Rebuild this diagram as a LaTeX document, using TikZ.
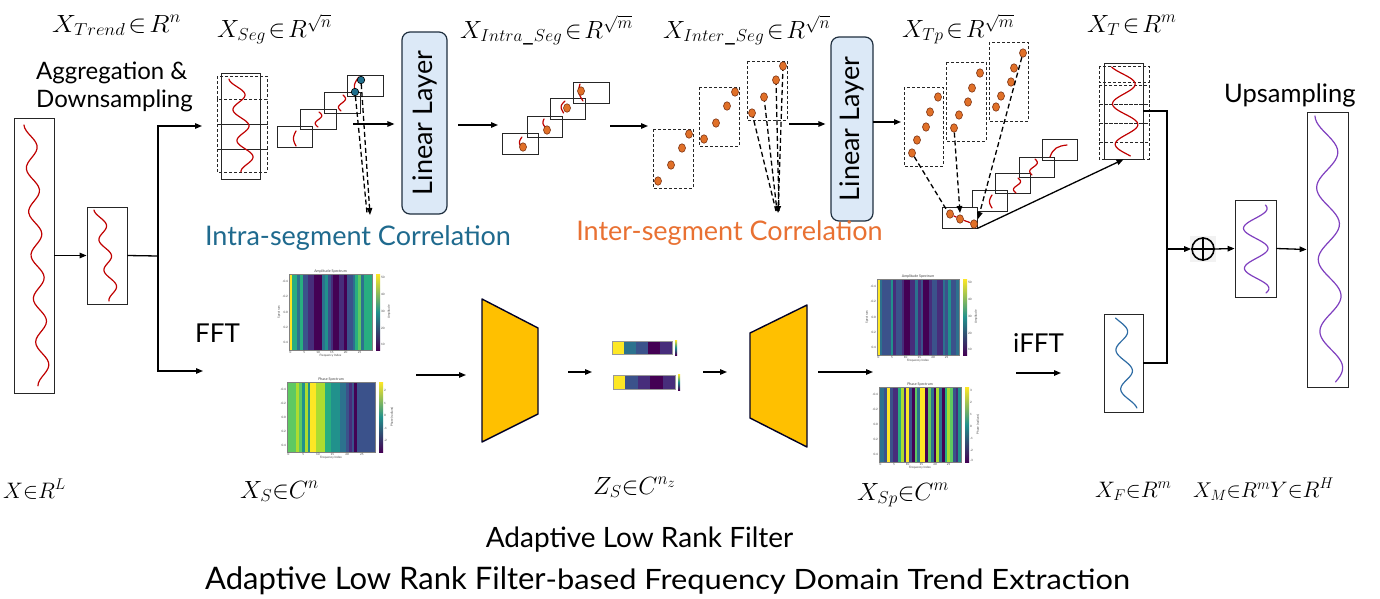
\documentclass[tikz,border=0pt]{standalone}
\usepackage{fontspec}
\setmainfont{Lato}
\usepackage{graphicx}
\usetikzlibrary{arrows.meta,shapes.geometric,calc}
\DeclareMathSizes{24.88}{24.88}{17.28}{14.4}
\definecolor{v0}{HTML}{440154}
\definecolor{v1}{HTML}{472D7B}
\definecolor{v2}{HTML}{3B528B}
\definecolor{v3}{HTML}{2C728E}
\definecolor{v4}{HTML}{21918C}
\definecolor{v5}{HTML}{28AE80}
\definecolor{v6}{HTML}{5EC962}
\definecolor{v7}{HTML}{ADDC30}
\definecolor{v8}{HTML}{FDE725}
\definecolor{wred}{HTML}{C00000}
\definecolor{wpurple}{HTML}{7F3FBF}
\definecolor{wblue}{HTML}{2E6CA4}
\definecolor{intrac}{HTML}{1F6A8E}
\definecolor{interc}{HTML}{E97132}
\definecolor{llfill}{HTML}{DCE9F7}
\definecolor{lldraw}{HTML}{1F2F3F}
\definecolor{trapf}{HTML}{FFC000}
\definecolor{dotf}{HTML}{E07028}
\definecolor{dotd}{HTML}{7A3010}
\definecolor{bdotf}{HTML}{1F6E8C}
\newcommand{\inn}{\mathord{\in}}

\newcommand{\wavy}[8]{\draw[#7, line width=1.2pt, line cap=round] plot[domain=0:1, samples=90, smooth, variable=\t] ({#1+(#3-#1)*\t + #5*sin(#6*360*\t+#8)}, {#2+(#4-#2)*\t});}

\newcommand{\specplot}[9]{%
  \pgfmathsetmacro{\spcw}{(#3-#1)/30}%
  \foreach \v [count=\i from 0] in {#5}{%
    \fill[v\v] ({#1+\i*\spcw},#2) rectangle ({#1+(\i+1)*\spcw},#4);}%
  \draw[black!50, line width=0.2pt] (#1,#2) rectangle (#3,#4);%
  \node[tinyt, anchor=south, font=\fontsize{3.6}{4}\selectfont] at ({(#1+#3)/2},#2-0.5) {#6};%
  \foreach \k in {0,5,10,15,20,25}{%
    \node[tinyt, anchor=north] at ({#1+(\k+0.5)*\spcw},#4+0.6) {\k};}%
  \node[tinyt, anchor=north] at ({(#1+#3)/2},#4+4.2) {Frequency Index};%
  \foreach \lab [count=\j from 0] in {-0.4,-0.2,0.0,0.2,0.4}{%
    \node[tinyt, anchor=east] at (#1-0.6,{#2+(#4-#2)*(0.1+0.2*\j)}) {\lab};}%
  \node[tinyt, rotate=90] at (#1-10,{(#2+#4)/2}) {#7};%
  \shade[top color=v8, bottom color=v0, middle color=v4] (#3+4,#2) rectangle (#3+8,#4);%
  \foreach \f/\l in {#8}{%
    \node[tinyt, anchor=west] at (#3+8.6,{#2+(#4-#2)*\f}) {\l};}%
  \node[tinyt, rotate=90] at (#3+17,{(#2+#4)/2}) {#9};%
}

\newcommand{\zstrip}[5]{%
  \pgfmathsetmacro{\zcw}{(#3-#1)/5}%
  \foreach \v [count=\i from 0] in {#5}{%
    \fill[v\v] ({#1+\i*\zcw},#2) rectangle ({#1+(\i+1)*\zcw},#4);}%
  \draw[black!40, line width=0.2pt] (#1,#2) rectangle (#3,#4);%
  \shade[top color=v8, bottom color=v0, middle color=v4] (#3+3,#2-1) rectangle (#3+5,#4+1);%
}

\begin{document}
\begin{tikzpicture}[x=1pt,y=-1pt,
  box/.style={draw=black!85, line width=0.8pt, inner sep=0},
  dbox/.style={draw=black!85, line width=0.8pt, dash pattern=on 3pt off 2pt},
  arr/.style={line width=1.3pt, -{Triangle[length=7pt,width=5.5pt]}},
  ln/.style={line width=1.3pt},
  dl/.style={line width=1.3pt, dash pattern=on 5pt off 3pt},
  dla/.style={line width=1.3pt, dash pattern=on 5pt off 3pt, -{Triangle[length=7pt,width=5.5pt]}},
  llayer/.style={draw=lldraw, fill=llfill, line width=1.2pt, rounded corners=8pt, inner sep=0, rotate=90, font=\fontsize{27}{30}\selectfont},
  odt/.style={ellipse, draw=dotd, fill=dotf, line width=0.6pt, minimum width=7pt, minimum height=8.5pt, inner sep=0},
  bdt/.style={circle, draw=black, fill=bdotf, line width=0.6pt, minimum size=7.5pt, inner sep=0},
  mlab/.style={font=\Huge, inner sep=0},
  stxt/.style={anchor=base west, inner sep=0, font=\fontsize{24}{28}\selectfont},
  tinyt/.style={font=\fontsize{3}{3.5}\selectfont, inner sep=0.3pt, text=black!75},
  trap/.style={fill=trapf, draw=black!85!blue, line width=1.4pt, line join=round}
]
\useasboundingbox[fill=white] (0,0) rectangle (1380,598);

% ---------------- top labels ----------------
\node[mlab, anchor=base west] (lTrend) at (52,32) {\scalebox{1.08}[1]{$X_{Trend}\!\in\! R^{n}$}};
\node[mlab, anchor=base west] (lSeg) at (217,37) {$X_{Seg}\!\in\! R^{\sqrt{n}}$};
\node[mlab, anchor=base west] (lIntra) at (460,38) {$X_{Intra\_Seg}\!\in\! R^{\sqrt{m}}$};
\node[mlab, anchor=base west] (lInter) at (663,38) {$X_{Inter\_Seg}\!\in\! R^{\sqrt{n}}$};
\node[mlab, anchor=base west] (lTp) at (902,37) {$X_{Tp}\!\in\! R^{\sqrt{m}}$};
\node[mlab, anchor=base west] (lT) at (1087,32) {$X_{T}\!\in\! R^{m}$};

\node[stxt] (agg1) at (36,79) {Aggregation \&};
\node[stxt] (agg2) at (36,107) {Downsampling};

% ---------------- input series ----------------
\node[box, minimum width=40pt, minimum height=275pt] (xL) at (34,255.5) {};
\wavy{30}{125}{44}{386}{6}{6}{wred}{-90}
\node[box, minimum width=40pt, minimum height=97pt] (xD) at (107,255.5) {};
\wavy{99}{210}{114}{301}{5}{3}{wred}{-90}
\draw[arr] (xL.east) -- (xD.west);
\coordinate (br) at (158,256);
\coordinate (segin) at (202,126);
\coordinate (fftin) at (203,371);
\draw[ln] (xD.east) -- (br);
\draw[arr] (br) |- (segin);
\draw[arr] (br) |- (fftin);

% ---------------- segmentation ----------------
\foreach \a/\b in {76/99,99/124,124/149,149/172}{\draw[dbox] (217,\a) rectangle (267,\b);}
\node[box, minimum width=39pt, minimum height=106pt] (seg) at (240.5,126) {};
\wavy{236}{79}{248}{172}{7}{3}{wred}{-90}

\node[box, minimum width=35pt, minimum height=21pt] (s1) at (294.5,136.5) {};
\node[box, minimum width=36pt, minimum height=20pt] (s2) at (318,119) {};
\node[box, minimum width=36pt, minimum height=21pt] (s3) at (342,102.5) {};
\node[box, minimum width=36pt, minimum height=21pt] (s4) at (365,85.5) {};
\wavy{296}{131}{296}{146}{-2.5}{0.5}{wred}{0}
\wavy{319}{112}{318}{127}{3}{1}{wred}{0}
\wavy{343}{95}{341}{111}{3}{1}{wred}{0}
\wavy{359}{77}{356}{93}{-3}{0.5}{wred}{0}
\node[bdt] (bd1) at (361,80) {};
\node[bdt] (bd2) at (355,92) {};
\coordinate (ic) at (370,215);
\draw[dl] (bd2) -- (367,213);
\draw[dla] (bd1) -- (ic);
\coordinate (s4out) at (353,124);
\node[llayer, minimum width=182pt, minimum height=45pt] (ll1) at (424.5,123) {Linear Layer};
\draw[arr, shorten >=7pt] (s4out) -- (s4out -| ll1.north);
\node[anchor=base, inner sep=0, text=intrac, font=\fontsize{27}{30}\selectfont] (intra) at (358,245) {Intra-segment Correlation};

% ---------------- intra segments ----------------
\coordinate (p1) at (458,125);
\coordinate (p2) at (498,125);
\draw[arr] (p1) -- (p2);
\node[box, minimum width=36pt, minimum height=21pt] (i1) at (520,143.5) {};
\node[box, minimum width=35pt, minimum height=21pt] (i2) at (544.5,126.5) {};
\node[box, minimum width=35pt, minimum height=21pt] (i3) at (567.5,108.5) {};
\node[box, minimum width=36pt, minimum height=21pt] (i4) at (591,92.5) {};
\wavy{522}{137}{521}{147}{-2}{0.5}{wred}{0}
\wavy{544}{119}{548}{131}{2.5}{0.6}{wred}{180}
\wavy{565}{101}{562}{113}{-2.5}{0.6}{wred}{0}
\wavy{580}{84}{583}{101}{-2.5}{0.5}{wred}{0}
\node[odt] (id1) at (523,147) {};
\node[odt] (id2) at (547,130) {};
\node[odt] (id3) at (567,108) {};
\node[odt] (id4) at (581,91) {};

% ---------------- inter segments ----------------
\coordinate (p3) at (610,126);
\coordinate (p4) at (648,126);
\draw[arr] (p3) -- (p4);
\draw[dbox] (653,129) rectangle (693,188);
\draw[dbox] (699,87) rectangle (739,146);
\draw[dbox] (747,61) rectangle (787,120);
\node[odt] (ea1) at (658,181) {};
\node[odt] (ea2) at (671,165) {};
\node[odt] (ea3) at (682,148) {};
\node[odt] (ea4) at (689,134) {};
\node[odt] (eb1) at (704,139) {};
\node[odt] (eb2) at (716,123) {};
\node[odt] (eb3) at (727,106) {};
\node[odt] (eb4) at (735,92) {};
\coordinate (ec) at (778,213);
\draw[dl] (752,113) -- (776,211);
\draw[dl] (764,97) -- (777,211);
\draw[dl] (776,80) -- (779,211);
\draw[dla] (783,66) -- (ec);
\node[odt] (ec1) at (752,113) {};
\node[odt] (ec2) at (764,97) {};
\node[odt] (ec3) at (776,80) {};
\node[odt] (ec4) at (783,66) {};
\node[llayer, minimum width=184pt, minimum height=42pt] (ll2) at (852,129) {Linear Layer};
\coordinate (e3out) at (789,124);
\draw[arr, shorten >=5pt] (e3out) -- (e3out -| ll2.north);
\node[anchor=base, inner sep=0, text=interc, font=\fontsize{27}{30}\selectfont] (inter) at (729.5,240) {Inter-segment Correlation};

% ---------------- Tp ----------------
\coordinate (ll2out) at (873,122);
\coordinate (tpin) at (901,122);
\draw[arr] (ll2out) -- (tpin);
\draw[dbox] (904,87) rectangle (943,166);
\draw[dbox] (946,62) rectangle (986,141);
\draw[dbox] (989,42) rectangle (1028,121);
\foreach \px/\py in {917/140,926/127,930/112,938/97}{\node[odt] at (\px,\py) {};}
\foreach \px/\py in {959/115,968/102,972/88,980/73}{\node[odt] at (\px,\py) {};}
\foreach \px/\py in {996/107,1001/96,1011/82,1014/68}{\node[odt] at (\px,\py) {};}
\node[odt] (ta) at (912,153) {};
\node[odt] (tb) at (954,128) {};
\node[odt] (tc) at (1023,53) {};

% assembly
\node[box, minimum width=35pt, minimum height=21pt] (b1) at (989.5,201) {};
\node[box, minimum width=35pt, minimum height=20pt] (b2) at (1012.5,183.5) {};
\node[box, minimum width=35pt, minimum height=20pt] (b3) at (1036.5,167) {};
\node[box, minimum width=35pt, minimum height=21pt] (b4) at (1059.5,149.5) {};
\node[box, minimum width=35pt, minimum height=21pt, fill=white] (b0) at (959.5,217.5) {};
\wavy{992}{195}{992}{208}{-2.5}{0.5}{wred}{0}
\wavy{1018}{178}{1016}{193}{3}{1}{wred}{0}
\wavy{1035}{159}{1032}{175}{3}{1}{wred}{0}
\draw[wred, line width=1.2pt, line cap=round] (1050,157) .. controls (1053,148) and (1058,146) .. (1067,145);
\node[odt] (bd0a) at (950,214) {};
\node[odt] (bd0b) at (960,219) {};
\node[odt] (bd0c) at (974,224) {};
\draw[wred, line width=1.2pt] (bd0a) -- (bd0b) -- (bd0c);
\draw[dl] (ta) -- (946,209);
\draw[dla] (tb) -- (960,213);
\draw[dla] (tc) -- (978,219);

% X_T
\foreach \a/\b in {66/82,85/104,104/123,123/142,142/159}{\draw[dbox] (1099,\a) rectangle (1149,\b);}
\node[box, minimum width=39pt, minimum height=96pt] (xT) at (1123.5,111) {};
\wavy{1122}{67}{1128}{156}{12}{2.2}{wred}{-60}
\draw[arr] (b0.south east) -- (xT.south);

% ---------------- lower branch ----------------
\node[anchor=base west, inner sep=0, font=\fontsize{26}{30}\selectfont] (fft) at (195,342) {FFT};
\specplot{289}{274}{372}{350}{8,5,5,3,5,2,2,1,1,0,0,0,3,4,2,1,0,0,1,1,0,2,2,3,5,6,3,5,5,5}{Amplitude Spectrum}{Spectrum}{0.05/50,0.27/40,0.49/30,0.71/20,0.93/10}{Amplitude}
\specplot{287}{382}{375}{452}{6,6,6,7,6,4,7,4,8,8,7,7,7,5,5,4,4,4,3,3,2,1,2,0,2,2,2,2,2,2}{Phase Spectrum}{}{0.12/2,0.3/1,0.48/0,0.66/-1,0.84/-2}{Phase (radians)}

\coordinate (q1) at (416,375);
\coordinate (q2) at (466,375);
\draw[arr] (q1) -- (q2);
\draw[trap] (482,299) -- (538,328) -- (538,414) -- (482,442) -- cycle;
\coordinate (q3) at (568,372);
\coordinate (q4) at (592,372);
\draw[arr] (q3) -- (q4);
\zstrip{612}{341}{672}{354}{8,3,2,0,1}
\zstrip{613}{375}{675}{389}{8,2,1,0,1}
\coordinate (q5) at (703,372);
\coordinate (q6) at (727,372);
\draw[arr] (q5) -- (q6);
\draw[trap] (750,333) -- (807,305) -- (807,447) -- (750,418) -- cycle;
\coordinate (q7) at (818,372);
\coordinate (q8) at (873,372);
\draw[arr] (q7) -- (q8);
\specplot{877}{279}{959}{355}{8,3,2,2,2,4,1,2,2,1,0,0,1,1,3,1,2,0,0,1,2,2,1,1,3,2,4,2,2,3}{Amplitude Spectrum}{Spectrum}{0.05/50,0.27/40,0.49/30,0.71/20,0.93/10}{Amplitude}
\specplot{879}{387}{961}{462}{3,3,2,8,2,1,1,5,7,1,8,2,0,6,3,8,8,0,6,3,0,7,3,0,5,7,6,2,1,4}{Phase Spectrum}{}{0.04/3,0.2/2,0.36/1,0.52/0,0.68/-1,0.84/-2,0.98/-3}{Phase (radians)}

\node[anchor=base west, inner sep=0, font=\fontsize{26}{30}\selectfont] (ifft) at (1013,352) {iFFT};
\coordinate (q9) at (1016,373);
\coordinate (q10) at (1061,373);
\draw[arr] (q9) -- (q10);

\node[box, minimum width=39pt, minimum height=98pt] (xF) at (1123.5,363) {};
\wavy{1119}{318}{1130}{408}{7}{2.3}{wblue}{-30}

% merge
\coordinate (mj) at (1167,249);
\draw[ln] (xT.east) -| (mj) |- (xF.east);
\fill[black!5] (1190,236) rectangle (1216,262);
\node[circle, draw=black, line width=1.6pt, minimum size=22pt, inner sep=0, fill=black!4] (plus) at (1203,249) {};
\draw[line width=1.6pt] (plus.north) -- (plus.south) (plus.west) -- (plus.east);
\draw[arr] (mj) -- (plus.west);
\node[box, minimum width=41pt, minimum height=97pt] (xM) at (1255.5,248.5) {};
\wavy{1255}{205}{1257}{293}{12}{2.2}{wpurple}{60}
\draw[arr] (plus.east) -- (xM.west);
\node[box, minimum width=41pt, minimum height=275pt] (yH) at (1327.5,249.5) {};
\wavy{1326}{116}{1332}{382}{11}{3.7}{wpurple}{-90}
\draw[arr] (xM.east) -- (yH.west);
\node[anchor=base west, inner sep=0, font=\fontsize{25.5}{30}\selectfont] (ups) at (1224,102) {Upsampling};

% ---------------- bottom labels ----------------
\node[mlab, anchor=base west] (lX) at (3,498) {\scalebox{0.9}{$X\inn R^{L}$}};
\node[mlab, anchor=base west] (lXS) at (240,498) {$X_{S}\inn C^{n}$};
\node[mlab, anchor=base west] (lZS) at (593,494) {$Z_{S}\inn C^{n_z}$};
\node[mlab, anchor=base west] (lXSp) at (857,500) {$X_{Sp}\inn C^{m}$};
\node[mlab, anchor=base west] (lXF) at (1095,497) {\scalebox{0.9}{$X_{F}\inn R^{m}$}};
\node[mlab, anchor=base west] (lXM) at (1193,497) {\scalebox{0.86}{$X_{M}\inn R^{m}$}};
\node[mlab, anchor=base west] (lY) at (1270,497) {\scalebox{0.9}{$Y\inn R^{H}$}};

\node[anchor=base, inner sep=0, font=\fontsize{28}{32}\selectfont] (alrf) at (639.5,547) {Adaptive Low Rank Filter};
\node[anchor=base west, inner sep=0] (title) at (205,589) {\fontsize{31}{34}\selectfont Adaptive Low Rank Filter\scalebox{1.1}[1]{\fontsize{28}{32}\selectfont -based Frequency Domain Trend Extraction}};
\end{tikzpicture}
\end{document}
